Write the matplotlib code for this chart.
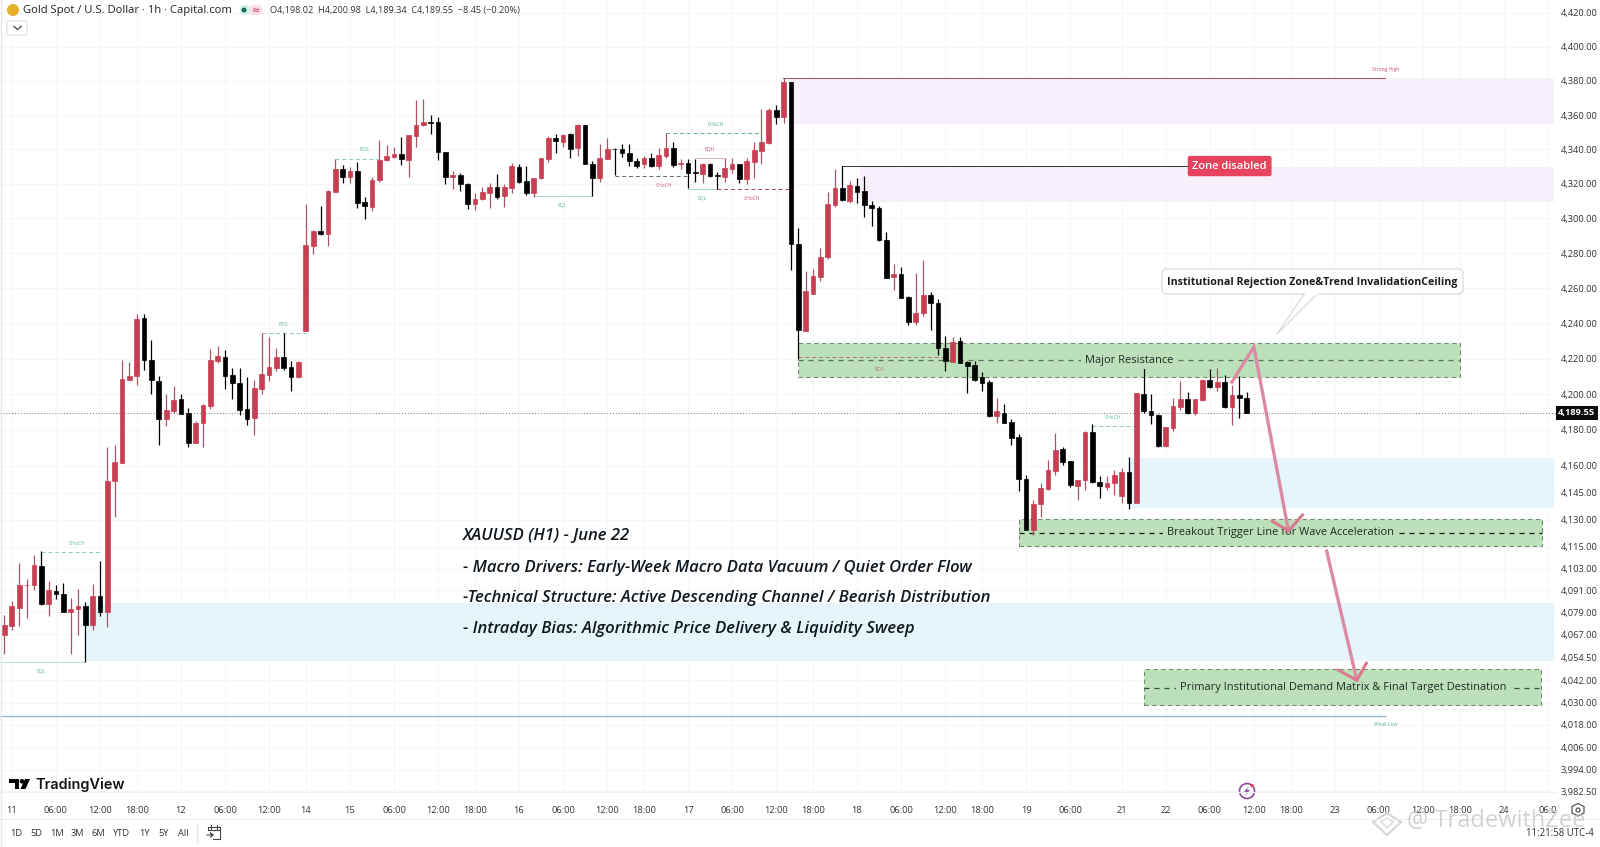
import matplotlib
matplotlib.use("Agg")
import matplotlib.pyplot as plt
from matplotlib.patches import Rectangle, FancyBboxPatch, Polygon, Circle

# XAUUSD 1h candles, one list per field
opens = [4066.5,4071.5,4081.5,4093.9,4093.7,4104.4,4083.7,4090.9,4089.2,4079.2,
         4080.7,4082.6,4072.0,4088.1,4079.4,4151.2,4161.4,4208.2,4210.4,4242.8,
         4219.4,4207.6,4185.8,4190.4,4197.0,4189.5,4172.5,4183.6,4193.6,4218.9,
         4220.9,4211.0,4206.3,4191.4,4186.4,4203.0,4211.0,4214.9,4220.9,4215.1,
         4209.5,4235.6,4283.9,4293.0,4291.1,4315.5,4328.7,4323.8,4327.5,4309.4,
         4306.7,4322.3,4333.6,4335.7,4337.3,4334.0,4348.0,4354.0,4356.0,4355.8,
         4338.7,4324.0,4325.2,4319.7,4308.6,4311.0,4314.5,4318.2,4312.9,4317.4,
         4329.5,4321.7,4314.9,4323.3,4334.3,4346.4,4344.5,4348.7,4340.6,4354.1,
         4331.4,4323.6,4334.6,4340.4,4340.0,4338.1,4333.5,4331.4,4335.2,4330.4,
         4336.2,4340.6,4331.2,4331.9,4326.7,4325.6,4331.6,4325.0,4324.2,4328.5,
         4331.2,4322.7,4332.9,4338.9,4343.5,4363.0,4358.6,4379.2,4285.4,4235.4,
         4256.8,4266.5,4277.6,4307.6,4317.5,4310.1,4319.0,4315.7,4307.8,4306.3,
         4287.7,4266.2,4268.1,4255.0,4240.8,4245.9,4256.3,4251.6,4226.0,4218.0,
         4229.8,4218.0,4216.3,4209.8,4206.9,4187.7,4189.5,4184.3,4175.9,4152.7,
         4124.1,4138.7,4146.9,4157.2,4169.0,4162.4,4148.8,4151.8,4178.7,4150.8,
         4148.2,4150.3,4143.2,4156.3,4139.4,4200.2,4190.5,4188.2,4170.8,4181.1,
         4192.9,4197.4,4189.5,4196.5,4207.7,4204.1,4206.9,4192.7,4199.3,4198.02]
highs = [4077.6,4085.0,4105.9,4097.0,4110.3,4112.4,4096.0,4094.2,4095.0,4086.8,
         4091.8,4084.4,4094.6,4107.2,4170.1,4171.6,4219.4,4218.1,4245.6,4245.6,
         4230.3,4210.0,4200.2,4204.5,4200.3,4192.3,4184.9,4194.2,4225.6,4227.3,
         4225.0,4214.7,4214.7,4209.7,4208.2,4234.4,4232.5,4226.0,4234.4,4218.9,
         4218.5,4308.2,4293.4,4307.0,4316.4,4334.4,4330.7,4329.5,4332.6,4312.5,
         4324.2,4345.3,4342.8,4341.4,4347.2,4348.6,4368.5,4369.5,4360.3,4358.6,
         4338.7,4327.7,4326.2,4320.7,4314.9,4318.4,4320.3,4325.8,4319.7,4332.0,
         4331.6,4330.1,4323.6,4335.0,4347.8,4348.7,4348.7,4349.3,4354.5,4354.3,
         4333.3,4342.9,4346.8,4341.0,4342.9,4342.9,4334.8,4336.2,4338.1,4341.0,
         4349.7,4344.3,4334.3,4334.3,4334.3,4332.3,4332.3,4326.9,4335.2,4335.0,
         4331.6,4335.2,4344.5,4363.6,4364.2,4366.1,4381.5,4379.6,4294.7,4269.8,
         4271.1,4283.2,4315.3,4328.5,4330.4,4321.7,4323.6,4324.6,4310.1,4307.2,
         4292.1,4273.8,4272.1,4255.4,4268.7,4276.3,4257.7,4253.9,4232.6,4232.2,
         4232.2,4218.9,4218.9,4212.6,4207.9,4198.0,4194.2,4185.8,4177.4,4155.0,
         4140.9,4150.3,4163.0,4178.3,4170.3,4162.8,4152.1,4179.3,4183.0,4154.0,
         4154.0,4157.4,4158.7,4164.7,4200.4,4221.7,4199.8,4188.6,4181.7,4198.0,
         4207.3,4201.3,4197.4,4208.6,4213.9,4214.8,4211.0,4205.4,4210.1,4200.98]
lows = [4056.3,4069.3,4071.5,4075.7,4091.1,4083.1,4077.0,4086.3,4079.0,4056.3,
        4066.5,4052.0,4069.3,4077.0,4071.1,4131.2,4161.4,4208.0,4205.0,4213.8,
        4200.2,4171.4,4182.1,4189.5,4189.1,4170.6,4172.5,4170.1,4191.4,4217.5,
        4202.6,4197.4,4188.2,4182.5,4176.9,4199.8,4207.6,4213.2,4213.8,4201.7,
        4209.1,4235.6,4279.4,4290.7,4284.3,4315.5,4320.3,4320.3,4306.3,4299.9,
        4304.3,4321.3,4333.4,4335.0,4331.0,4323.8,4341.2,4353.5,4349.2,4334.0,
        4319.9,4317.0,4315.8,4305.7,4305.1,4310.6,4306.3,4311.5,4306.7,4314.9,
        4320.7,4313.5,4312.5,4322.7,4332.7,4338.1,4341.6,4334.8,4336.2,4331.4,
        4313.0,4321.3,4334.2,4325.0,4335.8,4330.4,4329.0,4328.9,4329.8,4328.5,
        4335.2,4330.0,4328.5,4317.3,4321.1,4320.4,4324.2,4316.9,4321.1,4326.5,
        4320.7,4319.8,4323.6,4331.4,4343.3,4354.5,4355.5,4270.2,4220.0,4235.4,
        4256.6,4264.2,4276.7,4306.7,4310.1,4309.2,4309.2,4300.9,4295.7,4287.0,
        4265.9,4259.2,4254.6,4239.3,4239.3,4244.4,4236.4,4222.2,4213.0,4218.0,
        4217.8,4200.7,4207.5,4201.6,4187.3,4183.9,4183.9,4171.4,4145.6,4124.5,
        4121.3,4131.6,4146.5,4155.0,4160.2,4147.8,4140.9,4146.5,4150.2,4141.8,
        4146.5,4143.7,4139.4,4135.7,4139.4,4189.5,4183.0,4170.4,4170.4,4179.3,
        4190.8,4188.6,4188.2,4196.1,4203.2,4201.7,4192.3,4182.4,4186.4,4189.34]
closes = [4072.0,4082.2,4093.7,4094.2,4105.0,4083.7,4091.0,4089.2,4079.4,4081.0,
          4082.6,4072.0,4088.1,4079.4,4151.6,4161.8,4208.6,4210.1,4242.4,4219.4,
          4207.8,4185.8,4190.8,4196.6,4189.1,4172.5,4184.0,4194.0,4219.4,4221.3,
          4210.0,4206.0,4191.0,4185.8,4203.5,4211.2,4215.1,4220.9,4214.7,4209.7,
          4218.1,4284.7,4293.0,4291.1,4315.8,4328.7,4323.8,4327.4,4309.0,4307.1,
          4322.5,4334.0,4336.3,4337.5,4334.4,4348.6,4354.3,4356.2,4355.6,4338.7,
          4324.2,4325.0,4320.1,4308.2,4311.2,4315.1,4318.4,4312.5,4318.0,4330.1,
          4321.3,4314.9,4323.3,4334.8,4346.4,4344.7,4348.3,4340.4,4354.1,4331.4,
          4323.6,4334.8,4340.0,4340.0,4337.9,4333.3,4330.4,4335.2,4330.4,4337.0,
          4340.6,4330.8,4332.1,4326.2,4326.3,4331.4,4324.6,4324.6,4329.0,4331.2,
          4322.7,4333.1,4339.5,4344.5,4362.8,4359.0,4379.2,4285.4,4236.1,4258.5,
          4267.0,4277.6,4308.2,4317.5,4310.5,4319.4,4315.3,4307.6,4306.1,4287.5,
          4265.9,4268.1,4254.6,4240.8,4245.9,4256.3,4251.6,4226.0,4218.4,4229.4,
          4217.8,4216.1,4207.9,4206.4,4187.7,4190.5,4183.9,4175.5,4152.5,4124.5,
          4138.7,4147.3,4157.7,4168.6,4162.0,4149.0,4152.1,4178.9,4150.6,4148.4,
          4150.3,4154.9,4156.3,4139.2,4200.4,4190.5,4188.0,4170.8,4181.5,4193.3,
          4197.4,4189.5,4197.0,4207.7,4203.9,4207.1,4192.7,4199.3,4197.6,4189.55]
last_price = 4189.55

price_ticks = [4420,4400,4380,4360,4340,4320,4300,4280,4260,4240,4220,4200,4180,4160,4145,
               4130,4115,4103,4091,4079,4067,4054.5,4042,4030,4018,4006,3994,3982.5]
time_ticks = [1,7,13,18,24,30,36,41,47,53,59,64,70,76,82,87,93,99,105,110,116,122,128,133,
              139,145,152,158,164,170,175,181,187,193,198,204,210]
time_labels = ["11","06:00","12:00","18:00","12","06:00","12:00","14","15","06:00","12:00","18:00",
               "16","06:00","12:00","18:00","17","06:00","12:00","18:00","18","06:00","12:00","18:00",
               "19","06:00","21","22","06:00","12:00","18:00","23","06:00","12:00","18:00","24","06:0"]

# zones: first bar, last bar, top price, bottom price
pink_zones = [(107.15,210.8,4381.7,4355.0),(116.35,210.8,4329.7,4309.5)]
blue_zones = [(152.8,210.8,4164.1,4136.3),(11.0,210.8,4084.1,4052.5)]
green_zones = [(107.95,198.1,4229.0,4209.6,4219.0,"Major Resistance",153.0,"#5f705f"),
               (138.0,209.2,4130.3,4115.4,4122.8,"Breakout Trigger Line for Wave Acceleration",173.6,"#111111"),
               (155.0,209.1,4048.0,4028.6,4037.9,"Primary Institutional Demand Matrix & Final Target Destination",182.1,"#3c4a3c")]

# market structure: first bar, last bar, price, style, colour
structure_lines = [(5,13,4112.2,"--","#8cc5bd"),(-1,11,4051.9,"-","#b4dcd6"),
                   (35,41,4234.8,"--","#8cc5bd"),(45,51,4334.4,"--","#8cc5bd"),
                   (72,80,4313.0,"-","#a5d4cd"),(83,93,4324.8,"--","#666666"),
                   (90,103,4349.7,"--","#5fa89c"),(94,98,4334.8,"-","#d4b5c0"),
                   (93,97,4316.9,"-","#a5d4cd"),(97,107,4316.9,"--","#a34a5c"),
                   (108,128,4220.8,"--","#b5706a"),(148,154,4182.1,"--","#8cc5bd")]
structure_text = [("CHoCH",9.9,4117.0,"#5fb3a5"),("EQL",5.0,4047.0,"#5fb3a5"),
                  ("BOS",37.9,4239.6,"#5fb3a5"),("BOS",48.9,4339.8,"#5fb3a5"),
                  ("EQL",75.8,4307.6,"#5fb3a5"),("CHoCH",89.8,4319.3,"#c9566b"),
                  ("CHoCH",96.8,4354.2,"#4f9f92"),("EQH",95.9,4340.0,"#c9566b"),
                  ("EQL",94.9,4311.8,"#5fb3a5"),("CHoCH",101.7,4311.8,"#c9566b"),
                  ("BOS",119.0,4213.6,"#b5706a"),("CHoCH",150.8,4186.9,"#5fb3a5"),
                  ("Strong High",187.9,4386.4,"#c9566b"),("Weak Low",187.9,4018.4,"#5fb3a5")]
strong_high = (105.9,187.9,4381.7)
weak_low = (-1,187.9,4022.6)
disabled_line = (114,161,4330.3)

# projected path
path_bars = [167.0,170.0,174.7]
path_prices = [4206.8,4226.6,4123.7]
head1_bars = [172.5,174.7,176.6]
head1_prices = [4129.1,4123.7,4132.5]
path2_bars = [179.9,184.0]
path2_prices = [4112.6,4042.1]
head2_bars = [181.5,184.0,185.3]
head2_prices = [4047.5,4042.1,4051.3]

notes = ["XAUUSD (H1) - June 22",
         "- Macro Drivers: Early-Week Macro Data Vacuum / Quiet Order Flow",
         "-Technical Structure: Active Descending Channel / Bearish Distribution",
         "- Intraday Bias: Algorithmic Price Delivery & Liquidity Sweep"]
ranges = ["1D","5D","1M","3M","6M","YTD","1Y","5Y","All"]

W, H = 1600, 847
RED = "#c83f54"
font = "Open Sans"

fig = plt.figure(figsize=(W/100, H/100), dpi=100, facecolor="white")
ax = fig.add_axes([0, (H-792)/H, 1556/W, 792/H])
ax.set_yscale("log")
ax.set_xlim(-0.61, 211.1)
ax.set_ylim(3982.0, 4427.7)
ax.minorticks_off()
ax.yaxis.tick_right()
ax.set_yticks(price_ticks, [f"{p:,.2f}" for p in price_ticks])
ax.set_xticks(time_ticks, time_labels)
ax.tick_params(axis="y", length=0, pad=3.6, labelsize=6.7, labelcolor="#333333")
ax.tick_params(axis="x", length=0, pad=10, labelsize=6.7, labelcolor="#333333")
for lab in ax.get_xticklabels() + ax.get_yticklabels():
    lab.set_family(font)
ax.grid(True, color="#f6f7f9", lw=0.8)
ax.set_axisbelow(True)
for s in ax.spines.values():
    s.set_visible(False)

for x0, x1, top, bot in pink_zones:
    ax.add_patch(Rectangle((x0, bot), x1-x0, top-bot, fc="#f7f0fa", ec="none", zorder=1))
for x0, x1, top, bot in blue_zones:
    ax.add_patch(Rectangle((x0, bot), x1-x0, top-bot, fc="#e6f5fb", ec="none", zorder=1))
for x0, x1, top, bot, mid, label, lx, midcol in green_zones:
    ax.add_patch(Rectangle((x0, bot), x1-x0, top-bot, fc="#bce0ba", ec="#6f8f70", lw=0.8, ls=(0, (4, 3)), zorder=1.5))
    ax.plot([x0, x1], [mid, mid], color=midcol, lw=0.9, ls=(0, (4, 4)), zorder=1.6)
    ax.text(lx, mid, label, ha="center", va="center", fontsize=7.9, color="#1c2a20", family=font, zorder=5,
            bbox=dict(fc="#bce0ba", ec="none", pad=2.5))

for x0, x1, p, ls, col in structure_lines:
    ax.plot([x0, x1], [p, p], color=col, lw=0.7, ls=ls if ls == "-" else (0, (4, 3)), zorder=2)
for label, x, p, col in structure_text:
    ax.text(x, p, label, ha="center", va="center", fontsize=3.6, color=col, family=font, zorder=5)
ax.plot(strong_high[:2], [strong_high[2]]*2, color="#a85a78", lw=0.8, zorder=2)
ax.plot(weak_low[:2], [weak_low[2]]*2, color="#8fbccd", lw=1.0, zorder=2)
ax.plot(disabled_line[:2], [disabled_line[2]]*2, color="#333333", lw=0.7, zorder=2)
ax.axhline(last_price, color="#8a8a8a", lw=0.8, ls=(0, (1, 1.6)), zorder=2)

# candles
bars = list(range(len(closes)))
colors = [RED if c >= o else "black" for o, c in zip(opens, closes)]
wick_colors = ["#a85566" if c >= o else "black" for o, c in zip(opens, closes)]
ax.vlines(bars, lows, highs, colors=wick_colors, lw=0.9, zorder=3)
ax.bar(bars, [abs(c-o) for o, c in zip(opens, closes)], bottom=[min(o, c) for o, c in zip(opens, closes)],
       width=0.64, color=colors, edgecolor=colors, lw=0.5, zorder=3.1)

# projected path arrows
arrow_color = "#dc8aa4"
ax.plot(path_bars, path_prices, color=arrow_color, lw=2.4, zorder=6, solid_joinstyle="miter")
ax.plot(head1_bars, head1_prices, color="#d9798f", lw=2.2, zorder=6)
ax.plot(path2_bars, path2_prices, color=arrow_color, lw=2.4, zorder=6)
ax.plot(head2_bars, head2_prices, color="#d9798f", lw=2.2, zorder=6)

ax.text(166.7, disabled_line[2], "Zone disabled", ha="center", va="center", fontsize=8, color="white",
        weight="semibold", family=font, zorder=7, bbox=dict(boxstyle="round,pad=0.42,rounding_size=0.2", fc="#e8435c", ec="none"))

# overlay in pixels for the terminal chrome and the notes
ui = fig.add_axes([0, 0, 1, 1], zorder=5, facecolor="none")
ui.set_xlim(0, W)
ui.set_ylim(H, 0)
ui.axis("off")

for text, y in zip(notes, [536, 568, 598, 629]):
    ui.text(463, y, text, fontsize=12.0, style="italic", weight="semibold", color="#101820", va="center", family=font)

# legend row
ui.add_patch(Circle((13, 10), 6, fc="#e3b127", ec="none"))
ui.text(23, 10, "Gold Spot / U.S. Dollar · 1h · Capital.com", fontsize=8.1, color="#222222", va="center", family=font)
ui.add_patch(FancyBboxPatch((240, 5), 10, 10, boxstyle="round,pad=0,rounding_size=4", fc="#d8efe9", ec="none"))
ui.add_patch(Circle((244, 10), 2.5, fc="#0f6b57", ec="none"))
ui.add_patch(FancyBboxPatch((250, 5), 12, 10, boxstyle="round,pad=0,rounding_size=4", fc="#fbdde6", ec="none"))
ui.text(256, 10, "≈", fontsize=7, color="#b0405c", ha="center", va="center")
ui.text(270, 10, "O4,198.02  H4,200.98  L4,189.34  C4,189.55  −8.45 (−0.20%)", fontsize=6.55, color="#333333",
        va="center", family=font)
ui.add_patch(FancyBboxPatch((7, 21), 20, 14, boxstyle="round,pad=0,rounding_size=2", fc="white", ec="#dddddd", lw=0.8))
ui.plot([14, 17.5, 21], [26.5, 29.5, 26.5], color="#555555", lw=1)

# callout
ui.add_patch(Polygon([(1305, 293), (1277, 334), (1318, 293)], closed=False, fc="white", ec="#dedede", lw=1))
ui.add_patch(FancyBboxPatch((1162, 269), 301, 25, boxstyle="round,pad=0,rounding_size=5", fc="white", ec="#dedede", lw=1))
ui.plot([1306, 1317], [294, 294], color="white", lw=1.6)
ui.text(1312.5, 282, "Institutional Rejection Zone&Trend InvalidationCeiling", fontsize=7.7, weight="bold",
        ha="center", va="center", color="#1a1a1a", family=font)

# last price tag
ui.add_patch(Rectangle((1556, 406), 42, 14, fc="#0b0b0b", ec="none"))
ui.text(1577, 413, f"{last_price:,.2f}", fontsize=6.7, weight="bold", color="white", ha="center", va="center", family=font)

# TradingView mark
ui.add_patch(Polygon([(9, 779), (19, 779), (19, 789), (14.5, 789), (14.5, 783.5), (9, 783.5)], fc="black", ec="none"))
ui.add_patch(Circle((22, 781.3), 2.3, fc="black", ec="none"))
ui.add_patch(Polygon([(25, 779), (30, 779), (25.5, 789), (20.5, 789)], fc="black", ec="none"))
ui.text(35, 785, "TradingView", fontsize=10.4, weight="semibold", color="#111111", va="center", family="Inter")

# replay bolt
ui.add_patch(Circle((1247, 791), 7.5, fc="white", ec="#8e4a9e", lw=1.2))
ui.add_patch(Polygon([(1249, 786), (1244, 792), (1247, 792), (1245, 796), (1250, 790), (1247, 790)],
                     fc="#8e4a9e", ec="none"))
ui.add_patch(Circle((1252, 785.5), 1.7, fc="#e8435c", ec="none"))

# bottom bars
ui.plot([0, 1556], [792, 792], color="#f0f1f3", lw=0.8)
ui.plot([0, W], [819, 819], color="#eeeeee", lw=0.8)
ui.plot([0.5, 0.5], [0, 847], color="#e8e8e8", lw=1)
for label, x in zip(ranges, [16, 36, 56.6, 77, 98, 121.7, 144.6, 164, 183.7]):
    ui.text(x, 833, label, fontsize=6.7, color="#333333", ha="center", va="center", family=font)
ui.plot([197, 197], [824, 842], color="#e8e8e8", lw=0.8)
ui.plot([207.5, 207.5, 219.5, 219.5, 213], [829, 827, 827, 839, 839], color="#444444", lw=0.8)
ui.plot([207.5, 219.5], [830.5, 830.5], color="#444444", lw=0.8)
ui.plot([210.5, 210.5], [825, 829], color="#444444", lw=0.8)
ui.plot([216.5, 216.5], [825, 829], color="#444444", lw=0.8)
ui.plot([207, 213, 210.5, 213, 210.5], [835, 835, 833, 835, 837], color="#444444", lw=0.8)
ui.text(1594, 833, "11:21:58 UTC-4", fontsize=6.9, color="#333333", ha="right", va="center", family=font)
ui.add_patch(Polygon([(1572, 806.5), (1578, 803.5), (1584, 806.5), (1584, 813), (1578, 816), (1572, 813)],
                     fc="white", ec="#555555", lw=0.9))
ui.add_patch(Circle((1578, 810), 2, fc="white", ec="#555555", lw=0.9))

# watermark
ui.add_patch(Polygon([(1373, 822), (1387, 813), (1401, 822), (1387, 835)], fc="none", ec="#d6d6d6", lw=1.6))
ui.add_patch(Polygon([(1381, 822), (1387, 818), (1393, 822), (1387, 828)], fc="none", ec="#dddddd", lw=1.2))
ui.text(1407, 821, "@ TradewithZee", fontsize=17, color="#c4c4c4", alpha=0.75, va="center", family=font, zorder=6)

fig.savefig("out.png", dpi=100)
